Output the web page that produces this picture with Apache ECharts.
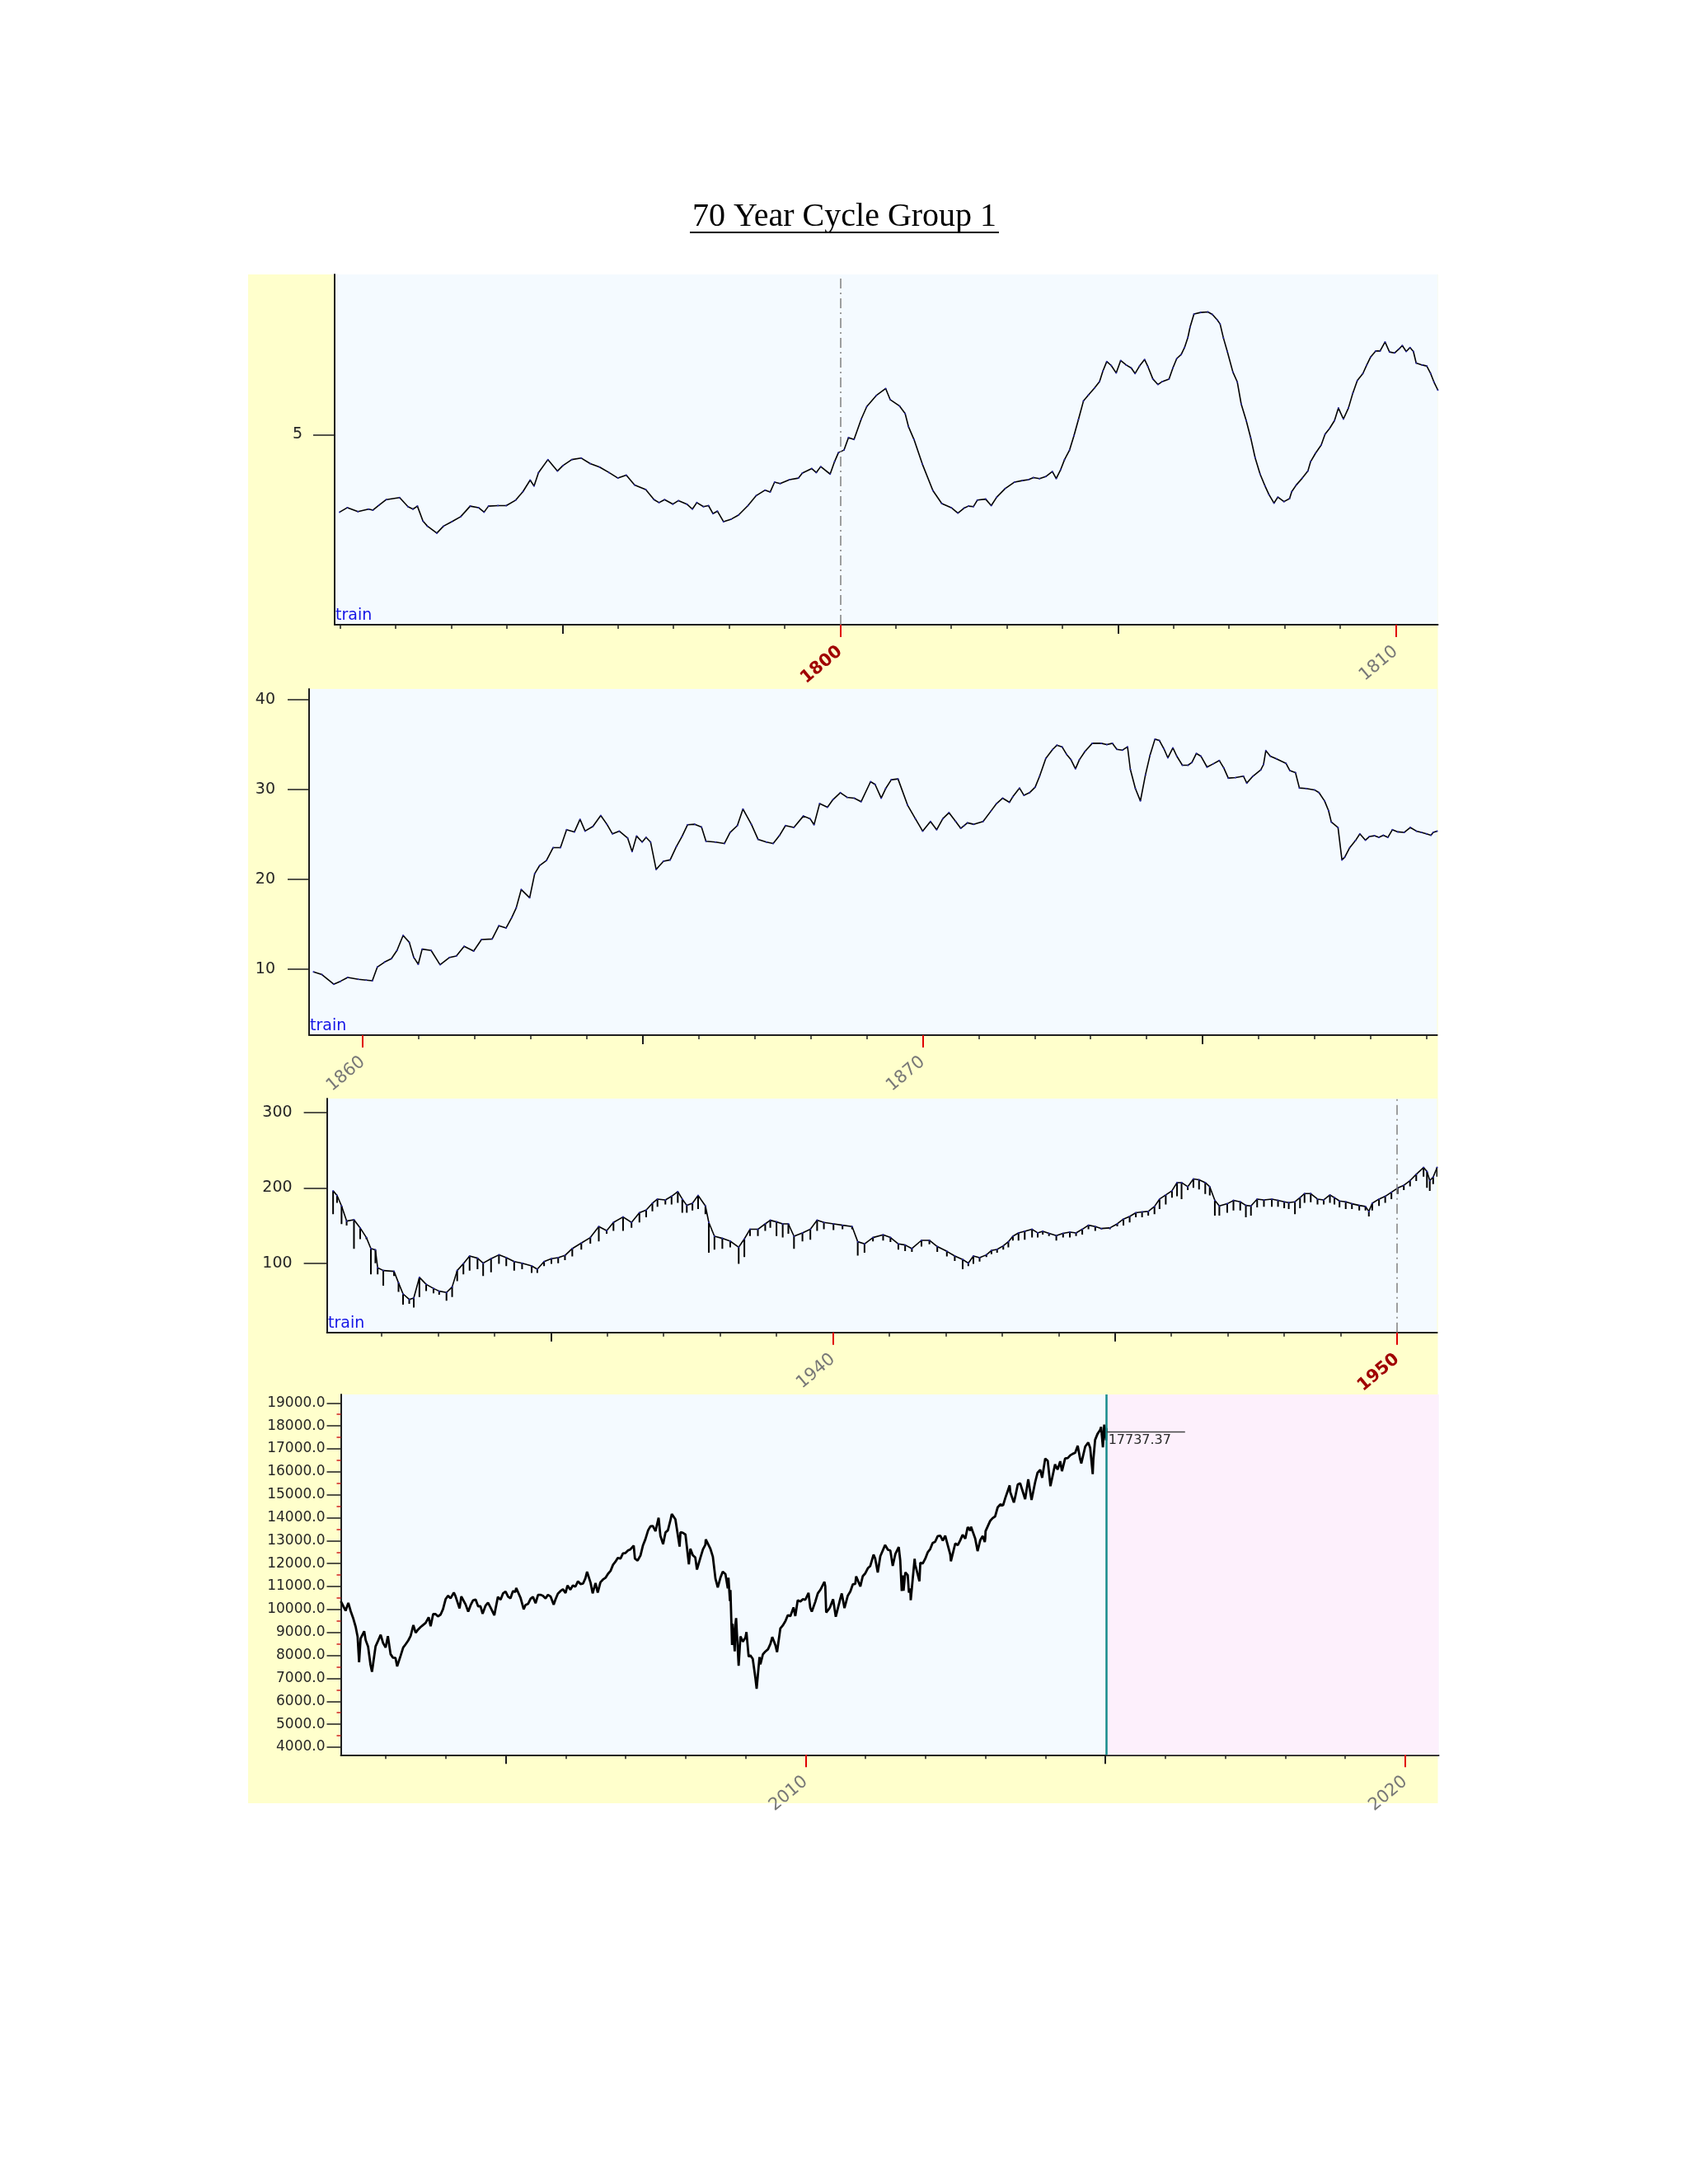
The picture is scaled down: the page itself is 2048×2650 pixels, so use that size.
<!DOCTYPE html>
<html>
<head>
<meta charset="utf-8">
<script src="https://cdn.jsdelivr.net/npm/echarts@6/dist/echarts.min.js"></script>
<style>html,body{margin:0;padding:0;background:#ffffff;}#c{width:2048px;height:2650px;}</style>
</head>
<body>
<div id="c"></div>
<script>
// ---------- DATA ----------
const titleText = '70 Year Cycle Group 1';

// Panel 1 (1791-1810) [year, value]
const p1Data = [[1790.99,3.45],[1791.13,3.54],[1791.32,3.46],[1791.51,3.51],[1791.59,3.49],[1791.70,3.59],[1791.83,3.70],[1792.07,3.74],[1792.22,3.56],[1792.31,3.51],[1792.39,3.57],[1792.49,3.27],[1792.57,3.17],[1792.74,3.03],[1792.86,3.17],[1793.01,3.26],[1793.17,3.36],[1793.34,3.57],[1793.49,3.54],[1793.59,3.45],[1793.67,3.57],[1793.84,3.58],[1793.99,3.58],[1794.16,3.69],[1794.29,3.86],[1794.42,4.09],[1794.49,3.97],[1794.57,4.24],[1794.74,4.50],[1794.91,4.27],[1795.01,4.38],[1795.17,4.50],[1795.34,4.53],[1795.50,4.42],[1795.67,4.35],[1795.84,4.24],[1796.00,4.13],[1796.15,4.19],[1796.30,3.99],[1796.50,3.90],[1796.65,3.70],[1796.74,3.64],[1796.84,3.70],[1796.99,3.61],[1797.09,3.68],[1797.24,3.61],[1797.34,3.51],[1797.42,3.64],[1797.54,3.56],[1797.63,3.58],[1797.71,3.42],[1797.79,3.47],[1797.90,3.26],[1798.04,3.31],[1798.17,3.39],[1798.34,3.58],[1798.49,3.78],[1798.65,3.89],[1798.74,3.85],[1798.82,4.05],[1798.92,4.02],[1799.09,4.10],[1799.25,4.13],[1799.32,4.23],[1799.49,4.32],[1799.57,4.24],[1799.65,4.36],[1799.82,4.21],[1799.90,4.46],[1799.97,4.64],[1800.07,4.69],[1800.15,4.94],[1800.25,4.90],[1800.38,5.31],[1800.48,5.56],[1800.65,5.78],[1800.82,5.92],[1800.90,5.70],[1801.07,5.57],[1801.17,5.42],[1801.23,5.16],[1801.33,4.90],[1801.48,4.41],[1801.67,3.88],[1801.83,3.62],[1802.00,3.54],[1802.12,3.43],[1802.23,3.53],[1802.31,3.57],[1802.40,3.56],[1802.47,3.69],[1802.62,3.71],[1802.72,3.58],[1802.82,3.75],[1802.97,3.92],[1803.14,4.05],[1803.28,4.08],[1803.39,4.10],[1803.48,4.14],[1803.59,4.12],[1803.70,4.16],[1803.82,4.26],[1803.89,4.12],[1803.97,4.30],[1804.04,4.50],[1804.13,4.69],[1804.21,4.98],[1804.29,5.30],[1804.38,5.67],[1804.47,5.79],[1804.58,5.93],[1804.67,6.06],[1804.73,6.27],[1804.80,6.46],[1804.88,6.38],[1804.97,6.23],[1805.05,6.48],[1805.15,6.39],[1805.24,6.33],[1805.31,6.22],[1805.39,6.37],[1805.48,6.50],[1805.54,6.36],[1805.63,6.11],[1805.72,6.00],[1805.80,6.06],[1805.92,6.11],[1805.99,6.33],[1806.06,6.52],[1806.14,6.60],[1806.20,6.74],[1806.26,6.94],[1806.30,7.15],[1806.37,7.41],[1806.49,7.44],[1806.62,7.45],[1806.70,7.40],[1806.79,7.29],[1806.84,7.21],[1806.90,6.93],[1806.97,6.66],[1807.07,6.25],[1807.15,6.05],[1807.22,5.61],[1807.31,5.28],[1807.39,4.94],[1807.47,4.54],[1807.56,4.21],[1807.65,3.97],[1807.72,3.80],[1807.81,3.63],[1807.88,3.75],[1807.99,3.66],[1808.09,3.72],[1808.13,3.86],[1808.21,3.99],[1808.32,4.13],[1808.42,4.27],[1808.47,4.46],[1808.56,4.63],[1808.66,4.79],[1808.73,5.01],[1808.81,5.12],[1808.90,5.28],[1808.97,5.53],[1809.06,5.31],[1809.15,5.53],[1809.23,5.83],[1809.31,6.08],[1809.41,6.22],[1809.48,6.39],[1809.55,6.55],[1809.64,6.67],[1809.72,6.67],[1809.81,6.85],[1809.89,6.65],[1809.98,6.63],[1810.06,6.71],[1810.12,6.78],[1810.19,6.66],[1810.26,6.74],[1810.32,6.66],[1810.37,6.43],[1810.48,6.39],[1810.56,6.37],[1810.63,6.22],[1810.69,6.05],[1810.76,5.89]];

// Panel 2 (1859-1879) [year, value]
const p2Data = [[1859.12,9.67],[1859.27,9.37],[1859.48,8.30],[1859.60,8.63],[1859.73,9.06],[1859.92,8.85],[1860.06,8.76],[1860.17,8.69],[1860.26,10.22],[1860.39,10.77],[1860.51,11.14],[1860.61,12.06],[1860.72,13.74],[1860.83,12.97],[1860.91,11.29],[1860.99,10.53],[1861.06,12.21],[1861.22,12.06],[1861.38,10.47],[1861.55,11.29],[1861.67,11.45],[1861.81,12.52],[1861.98,11.99],[1862.12,13.28],[1862.31,13.34],[1862.43,14.81],[1862.56,14.57],[1862.66,15.73],[1862.74,16.80],[1862.83,18.85],[1862.98,17.93],[1863.07,20.62],[1863.16,21.54],[1863.28,22.09],[1863.40,23.52],[1863.53,23.52],[1863.64,25.51],[1863.78,25.27],[1863.88,26.67],[1863.97,25.36],[1864.11,25.88],[1864.25,27.10],[1864.36,26.12],[1864.46,25.05],[1864.58,25.36],[1864.73,24.59],[1864.81,23.07],[1864.89,24.81],[1864.99,24.14],[1865.06,24.66],[1865.14,24.14],[1865.24,21.08],[1865.37,22.00],[1865.49,22.15],[1865.60,23.62],[1865.70,24.75],[1865.80,26.06],[1865.93,26.12],[1866.05,25.82],[1866.13,24.23],[1866.30,24.14],[1866.46,23.98],[1866.56,25.21],[1866.69,25.97],[1866.79,27.81],[1866.94,26.12],[1867.06,24.44],[1867.21,24.14],[1867.33,23.98],[1867.44,24.84],[1867.55,25.97],[1867.70,25.76],[1867.87,27.04],[1867.99,26.74],[1868.06,26.06],[1868.16,28.42],[1868.30,28.02],[1868.40,28.88],[1868.53,29.64],[1868.65,29.12],[1868.78,29.03],[1868.90,28.63],[1869.07,30.86],[1869.15,30.56],[1869.26,29.03],[1869.34,30.10],[1869.44,31.08],[1869.56,31.17],[1869.73,28.26],[1869.87,26.74],[1870.00,25.36],[1870.14,26.43],[1870.25,25.51],[1870.36,26.74],[1870.47,27.41],[1870.59,26.43],[1870.68,25.67],[1870.74,25.97],[1870.80,26.28],[1870.91,26.12],[1871.08,26.43],[1871.22,27.59],[1871.32,28.42],[1871.43,29.03],[1871.55,28.57],[1871.61,29.18],[1871.73,30.16],[1871.81,29.34],[1871.91,29.64],[1872.01,30.25],[1872.09,31.48],[1872.20,33.46],[1872.32,34.44],[1872.40,34.93],[1872.49,34.75],[1872.57,33.92],[1872.65,33.31],[1872.73,32.30],[1872.80,33.31],[1872.90,34.23],[1873.03,35.14],[1873.19,35.14],[1873.29,34.99],[1873.39,35.14],[1873.47,34.47],[1873.57,34.38],[1873.66,34.75],[1873.71,32.24],[1873.80,30.10],[1873.89,28.72],[1873.98,31.63],[1874.06,33.77],[1874.15,35.60],[1874.23,35.45],[1874.31,34.53],[1874.38,33.52],[1874.47,34.63],[1874.54,33.71],[1874.64,32.70],[1874.74,32.70],[1874.81,33.00],[1874.89,34.01],[1874.97,33.71],[1875.08,32.49],[1875.19,32.85],[1875.30,33.22],[1875.38,32.39],[1875.46,31.26],[1875.59,31.32],[1875.73,31.48],[1875.79,30.71],[1875.90,31.48],[1876.04,32.18],[1876.09,32.79],[1876.13,34.32],[1876.21,33.71],[1876.32,33.40],[1876.49,32.91],[1876.56,32.09],[1876.66,31.87],[1876.73,30.16],[1876.85,30.10],[1877.00,29.95],[1877.08,29.64],[1877.18,28.72],[1877.25,27.65],[1877.30,26.37],[1877.42,25.76],[1877.49,22.15],[1877.54,22.45],[1877.63,23.52],[1877.73,24.29],[1877.81,25.05],[1877.91,24.35],[1877.98,24.75],[1878.07,24.84],[1878.15,24.66],[1878.23,24.90],[1878.31,24.66],[1878.39,25.51],[1878.49,25.27],[1878.60,25.21],[1878.71,25.76],[1878.82,25.36],[1878.91,25.21],[1879.00,25.05],[1879.08,24.90],[1879.12,25.21],[1879.19,25.36]];

// Panel 3 (1931-1950) [year, close, low]
const p3Data = [[1931.14,196.1,165],[1931.21,189.9,180],[1931.29,176.0,152],[1931.38,155.9,150],[1931.51,157.7,119],[1931.62,146.8,132],[1931.73,134.0,132],[1931.81,119.4,85],[1931.89,117.6,100],[1931.93,93.8,85],[1932.03,90.2,70],[1932.22,89.1,83],[1932.30,73.8,62],[1932.38,59.1,45],[1932.49,51.8,46],[1932.57,53.7,41],[1932.67,81.1,55],[1932.79,71.9,63],[1932.92,66.4,60],[1933.02,62.8,58],[1933.15,61.0,50],[1933.25,68.3,55],[1933.34,90.2,76],[1933.45,99.3,85],[1933.56,109.5,90],[1933.70,106.6,92],[1933.80,100.0,83],[1933.94,105.9,88],[1934.08,111.0,99],[1934.21,107.3,96],[1934.35,102.2,90],[1934.49,100.0,92],[1934.66,96.4,87],[1934.76,92.0,87],[1934.88,102.2,96],[1935.01,105.9,99],[1935.13,107.3,100],[1935.25,110.2,104],[1935.38,119.4,109],[1935.54,126.7,118],[1935.70,134.0,126],[1935.85,148.6,129],[1935.99,143.1,139],[1936.11,154.1,143],[1936.28,161.4,143],[1936.43,154.1,147],[1936.57,166.9,154],[1936.69,170.5,161],[1936.80,179.6,169],[1936.89,185.1,175],[1937.03,184.0,178],[1937.14,188.8,178],[1937.25,195.0,180],[1937.33,185.1,167],[1937.41,176.7,167],[1937.51,179.6,170],[1937.61,189.9,172],[1937.74,176.0,165],[1937.80,154.1,114],[1937.90,135.8,118],[1938.04,132.9,119],[1938.18,129.2,121],[1938.33,121.2,99],[1938.43,132.2,108],[1938.53,145.0,136],[1938.67,145.0,136],[1938.80,152.2,143],[1938.89,157.0,147],[1939.00,154.8,136],[1939.11,152.2,134],[1939.21,152.2,139],[1939.31,135.8,119],[1939.46,140.2,129],[1939.60,145.0,131],[1939.72,157.0,143],[1939.84,154.1,145],[1940.01,152.2,144],[1940.17,150.4,145],[1940.34,148.6,145],[1940.44,128.5,110],[1940.56,125.6,114],[1940.71,134.0,129],[1940.89,137.6,130],[1941.02,134.0,128],[1941.16,125.6,118],[1941.28,124.1,116],[1941.40,119.4,115],[1941.57,130.3,122],[1941.71,130.3,125],[1941.85,122.0,115],[1942.02,115.7,109],[1942.16,109.5,103],[1942.30,104.8,92],[1942.40,100.0,96],[1942.49,109.5,99],[1942.60,107.3,102],[1942.72,111.0,108],[1942.81,116.8,112],[1942.91,118.3,114],[1943.02,123.0,118],[1943.11,128.5,121],[1943.19,135.8,130],[1943.29,140.2,130],[1943.40,142.4,131],[1943.53,145.0,134],[1943.63,140.2,134],[1943.72,142.4,138],[1943.83,139.5,136],[1943.96,136.6,130],[1944.08,139.5,134],[1944.20,141.3,134],[1944.31,140.2,136],[1944.42,145.0,138],[1944.53,150.4,145],[1944.65,148.6,143],[1944.76,146.0,145],[1944.91,146.8,145],[1945.04,152.2,149],[1945.15,158.5,150],[1945.26,162.1,154],[1945.37,166.9,161],[1945.48,168.0,161],[1945.59,168.7,163],[1945.70,175.3,165],[1945.79,185.1,172],[1945.90,190.6,178],[1946.01,196.1,187],[1946.10,207.0,189],[1946.18,207.0,185],[1946.29,201.5,197],[1946.39,211.8,200],[1946.49,210.7,198],[1946.60,207.0,192],[1946.68,201.5,190],[1946.77,183.3,163],[1946.85,176.0,163],[1946.99,178.9,167],[1947.10,183.3,170],[1947.22,181.5,170],[1947.32,176.7,161],[1947.41,176.0,163],[1947.52,185.1,174],[1947.64,184.0,175],[1947.78,185.1,175],[1947.89,183.3,175],[1948.00,181.5,173],[1948.08,180.4,172],[1948.19,181.5,165],[1948.28,187.0,173],[1948.36,192.4,180],[1948.47,192.4,181],[1948.59,185.1,178],[1948.70,184.0,178],[1948.81,190.6,180],[1948.89,187.0,178],[1948.98,182.6,174],[1949.09,181.5,172],[1949.20,178.9,172],[1949.33,176.7,170],[1949.44,175.3,170],[1949.50,168.7,162],[1949.56,179.6,170],[1949.68,185.1,176],[1949.79,188.8,180],[1949.90,194.2,185],[1950.01,199.7,192],[1950.12,203.4,197],[1950.23,209.6,202],[1950.34,218.0,209],[1950.47,227.1,215],[1950.53,221.6,200],[1950.58,209.6,196],[1950.64,214.3,205],[1950.71,227.1,215]];

// Panel 4 (2002-2015) [year, value]
const p4Data = [[2002.250,10362],[2002.290,10150],[2002.330,9946],[2002.375,10290],[2002.415,9925],[2002.455,9630],[2002.498,9243],[2002.530,8813],[2002.555,7702],[2002.580,8737],[2002.640,9053],[2002.665,8664],[2002.705,8380],[2002.745,7592],[2002.770,7286],[2002.830,8397],[2002.870,8630],[2002.915,8896],[2002.955,8540],[2002.998,8342],
[2003.035,8842],[2003.080,8054],[2003.120,7900],[2003.162,7891],[2003.190,7524],[2003.248,7992],[2003.290,8340],[2003.330,8480],[2003.375,8650],[2003.415,8850],[2003.460,9323],[2003.498,8985],[2003.540,9130],[2003.580,9233],[2003.620,9320],[2003.665,9416],[2003.715,9659],[2003.748,9275],[2003.790,9800],[2003.830,9801],[2003.870,9700],[2003.915,9782],[2003.955,10020],[2003.998,10454],
[2004.040,10600],[2004.080,10488],[2004.135,10737],[2004.162,10584],[2004.230,10048],[2004.248,10358],[2004.260,10570],[2004.330,10226],[2004.375,9906],[2004.415,10188],[2004.455,10400],[2004.498,10435],[2004.540,10140],[2004.580,10140],[2004.615,9815],[2004.665,10174],[2004.705,10300],[2004.748,10080],[2004.810,9750],[2004.830,10027],[2004.870,10550],[2004.915,10428],[2004.955,10700],[2004.998,10783],
[2005.040,10560],[2005.080,10490],[2005.120,10800],[2005.162,10766],[2005.175,10940],[2005.248,10504],[2005.300,10012],[2005.330,10193],[2005.375,10250],[2005.415,10467],[2005.455,10550],[2005.498,10275],[2005.540,10640],[2005.580,10641],[2005.620,10600],[2005.665,10482],[2005.705,10640],[2005.748,10569],[2005.800,10215],[2005.830,10440],[2005.870,10690],[2005.915,10806],[2005.955,10880],[2005.998,10718],
[2006.030,11043],[2006.080,10865],[2006.120,11050],[2006.162,10993],[2006.205,11230],[2006.248,11109],[2006.290,11130],[2006.330,11367],[2006.357,11642],[2006.415,11168],[2006.450,10706],[2006.498,11150],[2006.535,10739],[2006.580,11186],[2006.620,11300],[2006.665,11381],[2006.705,11550],[2006.748,11679],[2006.790,11950],[2006.830,12081],[2006.870,12250],[2006.915,12221],[2006.955,12440],[2006.998,12463],
[2007.040,12570],[2007.080,12622],[2007.135,12787],[2007.155,12216],[2007.162,12269],[2007.200,12133],[2007.248,12354],[2007.290,12800],[2007.330,13063],[2007.375,13450],[2007.415,13628],[2007.455,13640],[2007.498,13409],[2007.550,14000],[2007.580,13212],[2007.625,12846],[2007.665,13358],[2007.705,13450],[2007.748,13896],[2007.770,14165],[2007.830,13930],[2007.900,12743],[2007.915,13372],[2007.955,13340],[2007.998,13265],
[2008.055,11971],[2008.080,12650],[2008.120,12370],[2008.162,12266],[2008.190,11740],[2008.248,12263],[2008.290,12620],[2008.330,12820],[2008.337,13058],[2008.415,12638],[2008.455,12300],[2008.498,11350],[2008.537,10963],[2008.580,11378],[2008.620,11650],[2008.665,11544],[2008.704,10917],[2008.715,11388],[2008.740,10365],[2008.748,10851],[2008.775,8451],[2008.783,9387],[2008.820,8176],[2008.830,9325],[2008.843,9625],[2008.885,7552],[2008.915,8829],[2008.955,8600],[2008.998,8776],
[2009.015,9015],[2009.052,7950],[2009.080,8001],[2009.120,7850],[2009.162,7063],[2009.185,6547],[2009.233,7924],[2009.248,7609],[2009.290,8050],[2009.330,8168],[2009.375,8270],[2009.415,8500],[2009.446,8800],[2009.498,8447],[2009.526,8146],[2009.580,9172],[2009.620,9300],[2009.665,9496],[2009.705,9750],[2009.748,9712],[2009.800,10092],[2009.830,9713],[2009.870,10400],[2009.915,10345],[2009.955,10450],[2009.998,10428],
[2010.050,10725],[2010.080,10067],[2010.105,9908],[2010.162,10325],[2010.205,10700],[2010.248,10857],[2010.315,11205],[2010.330,11009],[2010.345,9870],[2010.398,10043],[2010.415,10137],[2010.460,10450],[2010.505,9686],[2010.580,10466],[2010.605,10698],[2010.650,10060],[2010.665,10015],[2010.705,10600],[2010.748,10788],[2010.790,11100],[2010.830,11118],[2010.845,11444],[2010.915,11006],[2010.955,11450],[2010.998,11578],
[2011.040,11800],[2011.080,11892],[2011.135,12391],[2011.162,12226],[2011.205,11613],[2011.248,12320],[2011.328,12811],[2011.375,12600],[2011.415,12570],[2011.455,11898],[2011.498,12414],[2011.555,12724],[2011.580,12143],[2011.605,10810],[2011.625,11482],[2011.635,10817],[2011.665,11614],[2011.705,11500],[2011.725,10733],[2011.748,10913],[2011.755,10404],[2011.820,12209],[2011.830,11955],[2011.900,11231],[2011.915,12046],[2011.955,12000],[2011.998,12218],
[2012.040,12500],[2012.080,12633],[2012.120,12900],[2012.162,12952],[2012.205,13200],[2012.248,13212],[2012.290,13000],[2012.330,13214],[2012.335,13279],[2012.415,12393],[2012.425,12101],[2012.498,12880],[2012.540,12800],[2012.580,13009],[2012.620,13250],[2012.665,13091],[2012.705,13590],[2012.748,13437],[2012.760,13610],[2012.830,13096],[2012.870,12543],[2012.915,13026],[2012.955,13200],[2012.990,12938],[2012.998,13104],
[2013.003,13412],[2013.080,13861],[2013.120,13980],[2013.162,14054],[2013.205,14450],[2013.248,14579],[2013.295,14537],[2013.330,14840],[2013.405,15409],[2013.415,15116],[2013.475,14660],[2013.498,14910],[2013.540,15450],[2013.580,15500],[2013.663,14810],[2013.715,15676],[2013.748,15130],[2013.770,14776],[2013.830,15546],[2013.870,15960],[2013.915,16086],[2013.947,15739],[2013.998,16577],
[2014.040,16480],[2014.085,15373],[2014.162,16322],[2014.205,16100],[2014.248,16458],[2014.277,16027],[2014.330,16581],[2014.375,16600],[2014.415,16717],[2014.455,16780],[2014.498,16827],[2014.540,17138],[2014.580,16563],[2014.600,16368],[2014.665,17098],[2014.715,17280],[2014.748,17043],[2014.790,15900],[2014.800,16500],[2014.830,17391],[2014.870,17650],[2014.915,17828],[2014.930,17958],[2014.960,17068],[2014.982,18053],[2014.998,17823],[2015.013,17371],[2015.019,17908],[2015.022,17737.37]];

// Axis ticks / labels
const p1MinorTicks = [1791,1792,1793,1794,1795,1796,1797,1798,1799,1800,1801,1802,1803,1804,1805,1806,1807,1808,1809,1810];
const p1MajorTicks = [1795,1805];
const p1LabelTicks = [1800,1810];
const p1RedLabels = [1800];
const p1YLabels = [5];

const p2MinorTicks = [1860,1861,1862,1863,1864,1865,1866,1867,1868,1869,1870,1871,1872,1873,1874,1875,1876,1877,1878,1879];
const p2MajorTicks = [1865,1875];
const p2LabelTicks = [1860,1870];
const p2RedLabels = [];
const p2YLabels = [10,20,30,40];

const p3MinorTicks = [1932,1933,1934,1935,1936,1937,1938,1939,1940,1941,1942,1943,1944,1945,1946,1947,1948,1949,1950];
const p3MajorTicks = [1935,1945];
const p3LabelTicks = [1940,1950];
const p3RedLabels = [1950];
const p3YLabels = [100,200,300];

const p4MinorTicks = [2003,2004,2005,2006,2007,2008,2009,2010,2011,2012,2013,2014,2015,2016,2017,2018,2019,2020];
const p4MajorTicks = [2005,2015];
const p4LabelTicks = [2010,2020];
const p4RedLabels = [];
const p4YLabels = [4000,5000,6000,7000,8000,9000,10000,11000,12000,13000,14000,15000,16000,17000,18000,19000];
const p4YMinor = [4500,5500,6500,7500,8500,9500,10500,11500,12500,13500,14500,15500,16500,17500,18500];

const p1Marker = 1800;
const p3Marker = 1950;
const p4AnnotEnd = 2016.33;

// ---------- CHART ----------
const FONT = '"DejaVu Sans", Verdana, sans-serif';
const AX = '#1e1e1e';
const chart = echarts.init(document.getElementById('c'), null, {renderer: 'canvas', width: 2048, height: 2650});

const grids = [
  {left: 406, top: 333, width: 1338.5, height: 425},
  {left: 375, top: 836, width: 1368.6, height: 420},
  {left: 396.6, top: 1333, width: 1347, height: 283.7},
  {left: 413.5, top: 1692, width: 1332, height: 437.3}
].map(g => Object.assign(g, {show: true, backgroundColor: '#f4faff', borderWidth: 0, containLabel: false, outerBoundsMode: 'none'}));

const xRanges = [[1790.90, 1810.76], [1859.04, 1879.19], [1931.03, 1950.71], [2002.25, 2020.56]];

function makeX(gi, minor, major, labeled, red) {
  const base = {type: 'value', gridIndex: gi, min: xRanges[gi][0], max: xRanges[gi][1], position: 'bottom', splitLine: {show: false}};
  return [
    Object.assign({}, base, {axisLine: {show: true, onZero: false, lineStyle: {color: AX, width: 2}},
      axisTick: {show: true, customValues: minor, length: 5, lineStyle: {color: AX, width: 1.5}}, axisLabel: {show: false}}),
    Object.assign({}, base, {axisLine: {show: false, onZero: false},
      axisTick: {show: true, customValues: major, length: 11, lineStyle: {color: AX, width: 2}}, axisLabel: {show: false}}),
    Object.assign({}, base, {axisLine: {show: false, onZero: false},
      axisTick: {show: true, customValues: labeled, length: 15, lineStyle: {color: '#e00000', width: 2}},
      axisLabel: {show: true, customValues: labeled, rotate: 40, margin: 30, hideOverlap: false,
        formatter: v => (red.indexOf(v) >= 0 ? '{r|' + v + '}' : '{g|' + v + '}'),
        rich: {r: {color: '#a00000', fontWeight: 'bold', fontSize: 21, fontFamily: FONT},
               g: {color: '#777777', fontSize: 21, fontFamily: FONT}}}})
  ];
}

function makeY(gi, min, max, vals, tickLen, margin, fontSize, fmt) {
  return {type: 'value', gridIndex: gi, min: min, max: max, position: 'left', splitLine: {show: false},
    axisLine: {show: true, onZero: false, lineStyle: {color: AX, width: 2}},
    axisTick: {show: true, customValues: vals, length: tickLen, lineStyle: {color: AX, width: 1.5}},
    axisLabel: {show: true, customValues: vals, margin: margin, fontSize: fontSize, fontFamily: FONT, color: '#262626',
      formatter: fmt || (v => String(v))}};
}

const xAxes = [].concat(
  makeX(0, p1MinorTicks, p1MajorTicks, p1LabelTicks, p1RedLabels),
  makeX(1, p2MinorTicks, p2MajorTicks, p2LabelTicks, p2RedLabels),
  makeX(2, p3MinorTicks, p3MajorTicks, p3LabelTicks, p3RedLabels),
  makeX(3, p4MinorTicks, p4MajorTicks, p4LabelTicks, p4RedLabels)
);

const yAxes = [
  makeY(0, 1.2, 8.2, p1YLabels, 26, 39, 19),
  makeY(1, 2.63, 41.19, p2YLabels, 26, 41, 19),
  makeY(2, 8, 318.6, p3YLabels, 28, 42, 19),
  makeY(3, 3666, 19370, p4YLabels, 17, 19, 17, v => v.toFixed(1)),
  {type: 'value', gridIndex: 3, min: 3666, max: 19370, position: 'left', splitLine: {show: false},
    axisLine: {show: false, onZero: false},
    axisTick: {show: true, customValues: p4YMinor, length: 5, lineStyle: {color: '#d02020', width: 1.5}},
    axisLabel: {show: false}}
];

const lastP4 = p4Data[p4Data.length - 1];
const dashDot = [12, 5, 2, 5];

const lineBase = {type: 'line', showSymbol: true, showAllSymbol: true, symbol: 'circle', symbolSize: 2,
  itemStyle: {color: '#2a2aa8'}, lineStyle: {color: '#000', width: 1.6}, animation: false, silent: true, clip: true};

const series = [
  Object.assign({}, lineBase, {xAxisIndex: 0, yAxisIndex: 0, data: p1Data,
    markLine: {silent: true, symbol: ['none', 'none'], label: {show: false},
      lineStyle: {color: '#808080', width: 1.5, type: dashDot}, data: [{xAxis: p1Marker}]}}),
  Object.assign({}, lineBase, {xAxisIndex: 3, yAxisIndex: 1, data: p2Data}),
  Object.assign({}, lineBase, {xAxisIndex: 6, yAxisIndex: 2, data: p3Data.map(d => [d[0], d[1]]),
    markLine: {silent: true, symbol: ['none', 'none'], label: {show: false},
      lineStyle: {color: '#808080', width: 1.5, type: dashDot}, data: [{xAxis: p3Marker}]}}),
  {type: 'custom', xAxisIndex: 6, yAxisIndex: 2, data: p3Data, encode: {x: 0, y: [1, 2]}, silent: true, animation: false, clip: true,
    renderItem: function (params, api) {
      const a = api.coord([api.value(0), api.value(1)]);
      const b = api.coord([api.value(0), api.value(2)]);
      return {type: 'line', shape: {x1: a[0], y1: a[1], x2: b[0], y2: b[1]}, style: {stroke: '#000', lineWidth: 2}};
    }},
  {type: 'line', xAxisIndex: 9, yAxisIndex: 3, data: p4Data, showSymbol: false, animation: false, silent: true,
    lineStyle: {color: '#000', width: 2.8},
    markArea: {silent: true, itemStyle: {color: '#fdf0fc'}, data: [[{xAxis: lastP4[0]}, {xAxis: xRanges[3][1]}]]},
    markLine: {silent: true, symbol: ['none', 'none'], animation: false,
      data: [
        {xAxis: lastP4[0], lineStyle: {color: '#168c8c', width: 2.5, type: 'solid'}, label: {show: false}},
        [{coord: [lastP4[0], lastP4[1]], lineStyle: {color: '#444', width: 1.3, type: 'solid'},
          label: {show: true, position: 'insideStartBottom', distance: 2, formatter: lastP4[1].toFixed(2),
            color: '#2a2a2a', fontSize: 16, fontFamily: FONT}},
         {coord: [p4AnnotEnd, lastP4[1]]}]
      ]}}
];

const graphic = {elements: [
  {type: 'rect', z: -100, silent: true, shape: {x: 301, y: 333, width: 1443.5, height: 1855}, style: {fill: '#ffffcc'}},
  {type: 'text', z: 50, x: 1024.5, y: 263, style: {text: titleText, font: '40px "Liberation Serif", "Times New Roman", serif', fill: '#000', align: 'center', verticalAlign: 'middle'}},
  {type: 'rect', z: 50, shape: {x: 837, y: 281, width: 375, height: 2}, style: {fill: '#000'}},
  {type: 'text', z: 50, x: 407, y: 757, style: {text: 'train', font: '19px "DejaVu Sans"', fill: '#1414e6', align: 'left', verticalAlign: 'bottom'}},
  {type: 'text', z: 50, x: 376, y: 1255, style: {text: 'train', font: '19px "DejaVu Sans"', fill: '#1414e6', align: 'left', verticalAlign: 'bottom'}},
  {type: 'text', z: 50, x: 398, y: 1616, style: {text: 'train', font: '19px "DejaVu Sans"', fill: '#1414e6', align: 'left', verticalAlign: 'bottom'}}
]};

chart.setOption({
  animation: false,
  backgroundColor: '#ffffff',
  graphic: graphic,
  grid: grids,
  xAxis: xAxes,
  yAxis: yAxes,
  series: series
});
</script>
</body>
</html>
